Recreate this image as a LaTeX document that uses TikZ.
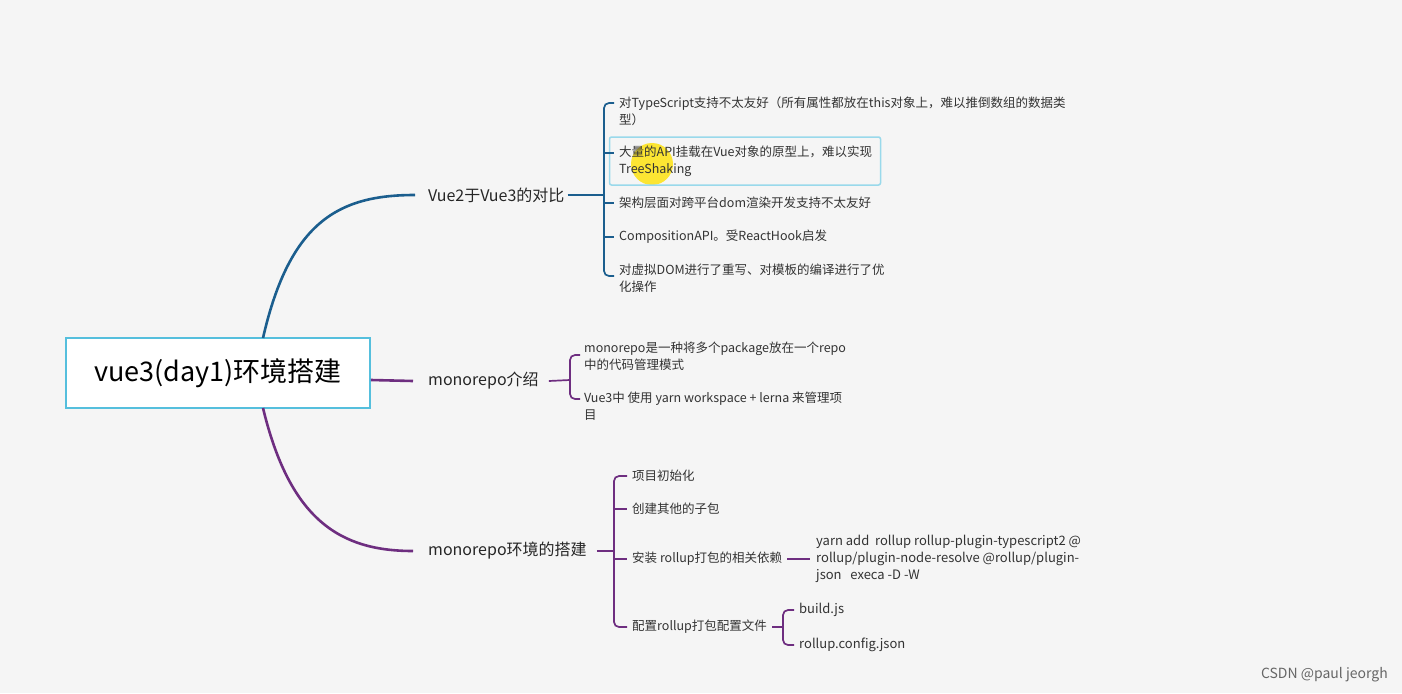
\documentclass[tikz,border=0pt]{standalone}
\usepackage{fontspec}
\setmainfont{Noto Sans CJK SC}
\definecolor{cb}{HTML}{1B5E8E}
\definecolor{cp}{HTML}{6E2E80}
\definecolor{cy}{HTML}{55BFDD}
\begin{document}
\begin{tikzpicture}[x=1pt,y=-1pt,
  item/.style={anchor=west,font=\fontsize{12.5}{17}\selectfont,text=black!80,align=left,inner sep=0pt},
  lbl/.style={anchor=west,font=\fontsize{16}{20}\selectfont,text=black!85,inner sep=0pt},
  bl/.style={draw=cb,line width=2.6pt},
  bls/.style={draw=cb,line width=1.7pt,rounded corners=5pt},
  pl/.style={draw=cp,line width=2.6pt},
  pls/.style={draw=cp,line width=1.7pt,rounded corners=5pt}]
\fill[black!4] (0,0) rectangle (1402,693);
\useasboundingbox (0,0) rectangle (1402,693);
\fill[yellow!85!orange,opacity=0.8] (652,164) circle (21pt);
% root
\node[draw=cy,line width=1.8pt,fill=white,minimum width=304pt,minimum height=70pt,font=\fontsize{27}{30}\selectfont] (root) at (218,373) {vue3(day1)环境搭建};
\node[lbl] (b1) at (428,195) {Vue2于Vue3的对比};
\node[lbl] (b2) at (428,381) {monorepo介绍};
\node[lbl] (b3) at (428,551) {monorepo环境的搭建};
\coordinate (rt) at (263,338);
\coordinate (rb) at (263,408);
\draw[bl] (rt) .. controls (290,220) and (340,195) .. ([xshift=-13pt]b1.west);
\draw[pl] (root.east |- 0,380) -- ([xshift=-15pt]b2.west);
\draw[pl] (rb) .. controls (290,520) and (340,551) .. ([xshift=-15pt]b3.west);
% branch 1 items
\node[item] (a1) at (619,111) {对TypeScript支持不太友好（所有属性都放在this对象上，难以推倒数组的数据类\\型）};
\node[item] (a2) at (619,161) {大量的API挂载在Vue对象的原型上，难以实现\\TreeShaking};
\node[item] (a3) at (619,203) {架构层面对跨平台dom渲染开发支持不太友好};
\node[item] (a4) at (619,237) {CompositionAPI。受ReactHook启发};
\node[item] (a5) at (619,278) {对虚拟DOM进行了重写、对模板的编译进行了优\\化操作};
\node[draw=cy!60,line width=1.5pt,rounded corners=2pt,minimum width=271pt,minimum height=48pt] (sel) at (745,161) {};
\draw[bls] ([xshift=3pt]b1.east) -- (604,195);
\draw[bls] (614,103) -- (604,103) -- (604,276) -- (614,276);
\draw[bls] (604,153) -- (614,153);
\draw[bls] (604,203) -- (614,203);
\draw[bls] (604,237) -- (614,237);
% branch 2
\node[item] (m1) at (584,356) {monorepo是一种将多个package放在一个repo\\中的代码管理模式};
\node[item] (m2) at (584,406) {Vue3中 使用 yarn workspace + lerna 来管理项\\目};
\draw[pls] ([xshift=10pt]b2.east) -- (570,380);
\draw[pls] (580,355) -- (570,355) -- (570,399) -- (580,399);
% branch 3
\node[item] (c1) at (632,476) {项目初始化};
\node[item] (c2) at (632,509) {创建其他的子包};
\node[item] (c3) at (632,559) {安装 rollup打包的相关依赖};
\node[item] (c4) at (632,627) {配置rollup打包配置文件};
\draw[pls] ([xshift=10pt]b3.east) -- (614,551);
\draw[pls] (627,476) -- (614,476) -- (614,627) -- (627,627);
\draw[pls] (614,509) -- (627,509);
\draw[pls] (614,559) -- (627,559);
\node[item,font=\fontsize{13}{17}\selectfont] (d1) at (816,559) {yarn add~ rollup rollup-plugin-typescript2 @\\rollup/plugin-node-resolve @rollup/plugin-\\json~~ execa -D -W};
\draw[pls] ([xshift=5pt]c3.east) -- ([xshift=-6pt]d1.west);
\node[item,font=\fontsize{13}{17}\selectfont] (e1) at (799,610) {build.js};
\node[item,font=\fontsize{13}{17}\selectfont] (e2) at (799,645) {rollup.config.json};
\draw[pls] ([xshift=5pt]c4.east) -- (783,627);
\draw[pls] (794,610) -- (783,610) -- (783,645) -- (794,645);
\node[anchor=east,font=\fontsize{14}{16}\selectfont,text=black!60,inner sep=0pt] (wm) at (1388,675) {CSDN @paul jeorgh};
\end{tikzpicture}
\end{document}
